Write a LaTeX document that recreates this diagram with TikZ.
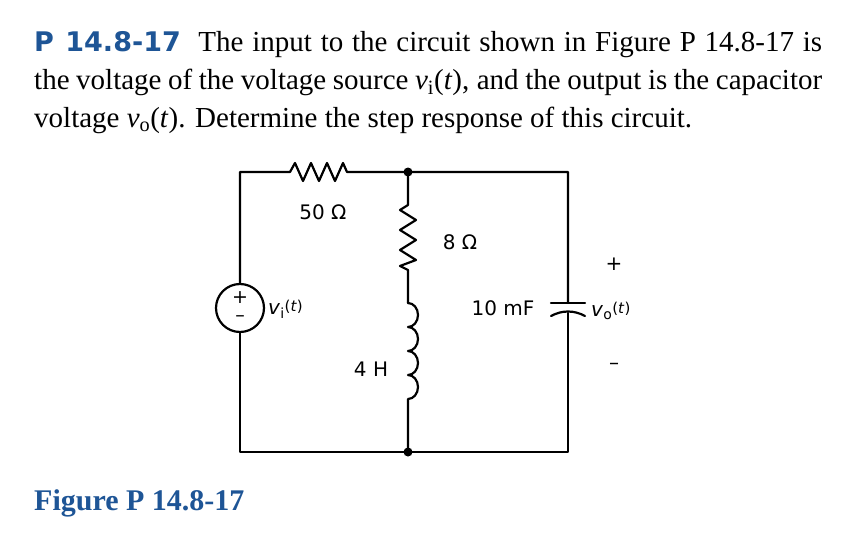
\documentclass[tikz,border=0pt]{standalone}
\usepackage{fontspec}
\setmainfont{Liberation Serif}
\setsansfont{DejaVu Sans}
\usetikzlibrary{calc}
\definecolor{tblue}{RGB}{30,85,150}
\newcommand{\vv}[1]{\textit{v}\textsubscript{#1}(\textit{t})}
\newcommand{\sv}[1]{\textit{v}\textsubscript{#1}\raisebox{0.3ex}{\fontsize{15}{15}\selectfont(\textit{t})}}
\begin{document}
\begin{tikzpicture}[x=1pt,y=-1pt,
  wire/.style={line width=2.2pt,line join=round,line cap=round},
  lbl/.style={font=\sffamily\fontsize{20}{20}\selectfont,inner sep=0pt},
  dot/.style={circle,fill,inner sep=0pt,minimum size=9pt}]
\useasboundingbox (0,0) rectangle (842,540);
% text
\node[anchor=base west,inner sep=0pt,font=\fontsize{29}{29}\selectfont] (t1) at (34,52)
 {\hbox to 788pt{\textcolor{tblue}{\sffamily\bfseries\fontsize{27}{27}\selectfont P 14.8-17}\ \ The input to the circuit shown in Figure P 14.8-17 is}};
\node[anchor=base west,inner sep=0pt,font=\fontsize{29}{29}\selectfont] (t2) at (34,90)
 {\hbox to 788pt{\spaceskip=0.1em plus 1em the voltage of the voltage source \vv{i}, and the output is the capacitor}};
\node[anchor=base west,inner sep=0pt,font=\fontsize{29}{29}\selectfont] (t3) at (34,128)
 {voltage \vv{o}. Determine the step response of this circuit.};
\node[anchor=base west,inner sep=0pt,font=\bfseries\fontsize{30}{30}\selectfont,text=tblue] (fig) at (34,510) {Figure P 14.8-17};
% nodes
\coordinate (tl) at (240,172); \coordinate (tm) at (408,172); \coordinate (tr) at (568,172);
\coordinate (bl) at (240,452); \coordinate (bm) at (408,452); \coordinate (br) at (568,452);
\node[circle,draw,line width=2.2pt,minimum size=48pt,inner sep=0pt] (src) at (240,308) {};
\node[font=\sffamily\fontsize{19}{19}\selectfont] at (240,298) {+};
\node[font=\sffamily\fontsize{19}{19}\selectfont] at (240,319) {–};
% left branch
\draw[wire] (src.north) -- (tl) -- (290,172)
  -- (295,163) -- (303,181) -- (311,163) -- (319,181) -- (327,163) -- (335,181) -- (343,163) -- (347,172)
  -- (tm) -- (tr) -- (568,303);
\draw[wire] (src.south) -- (bl) -- (br) -- (568,313);
% capacitor
\draw[wire] (551,303) -- (585,303);
\draw[wire] (551,316) .. controls (562,310) and (574,310) .. (585,316);
% middle
\draw[wire] (tm) -- (408,205) -- (400,210) -- (416,220) -- (400,230) -- (416,240) -- (400,250) -- (416,260) -- (400,266) -- (408,270) -- (408,303);
\draw[wire] (408,303)
  arc[start angle=-90,end angle=90,x radius=10,y radius=12] arc[start angle=-90,end angle=90,x radius=10,y radius=12]
  arc[start angle=-90,end angle=90,x radius=10,y radius=12] arc[start angle=-90,end angle=90,x radius=10,y radius=12]
  -- (bm);
\node[dot] (d1) at (tm) {};
\node[dot] (d2) at (bm) {};
% labels
\node[lbl] (l50) at (323,212) {50 Ω};
\node[lbl] (l8) at (460,242) {8 Ω};
\node[lbl] (l4) at (371,369) {4 H};
\node[lbl] (l10) at (503,308) {10 mF};
\node[lbl,anchor=west] (lvi) at (268,309) {\sv{i}};
\node[lbl,anchor=west] (lvo) at (591,311) {\sv{o}};
\node[lbl] (lp) at (614,264) {+};
\node[lbl] (lm) at (614,366) {–};
\end{tikzpicture}
\end{document}
